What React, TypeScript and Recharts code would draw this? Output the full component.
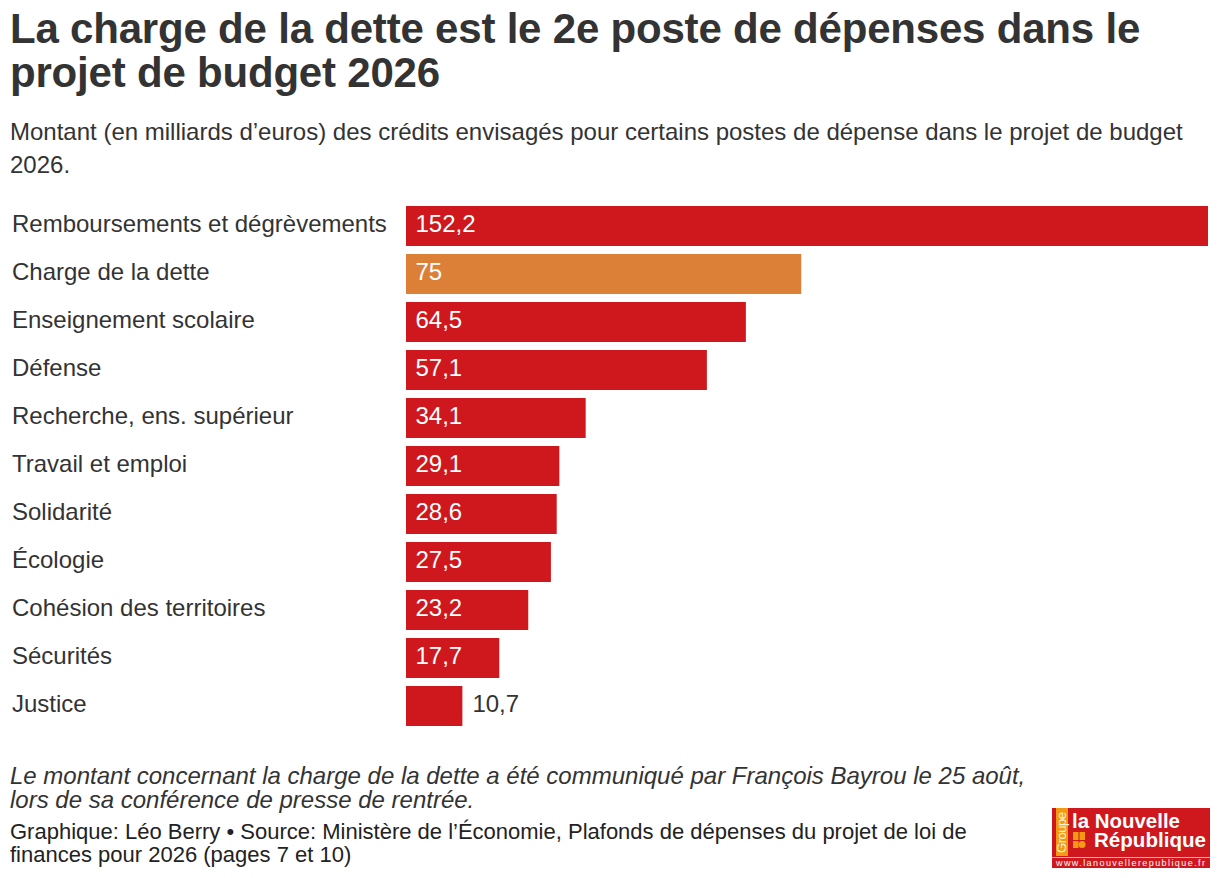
import React from 'react';
import { BarChart, Bar, XAxis, YAxis, Cell, LabelList } from 'recharts';

const categories = [
  'Remboursements et dégrèvements',
  'Charge de la dette',
  'Enseignement scolaire',
  'Défense',
  'Recherche, ens. supérieur',
  'Travail et emploi',
  'Solidarité',
  'Écologie',
  'Cohésion des territoires',
  'Sécurités',
  'Justice',
];
const values = [152.2, 75, 64.5, 57.1, 34.1, 29.1, 28.6, 27.5, 23.2, 17.7, 10.7];
const highlighted = 'Charge de la dette';

const data = categories.map((name, i) => ({ name, value: values[i] }));

const FONT = '"Liberation Sans", Arial, sans-serif';
const INK = '#333333';
const RED = '#ce181e';
const ORANGE = '#dc8038';
const LOGO_ORANGE = '#f39a12';

const CategoryTick = ({ y, payload }: any) => (
  <text x={12} y={y} dy={6} fontSize={24} fontFamily={FONT} fill={INK} textAnchor="start">
    {payload.value}
  </text>
);

const ValueLabel = ({ x, y, width, height, value }: any) => {
  // short bars get the number outside
  const outside = width < 70;
  return (
    <text
      x={outside ? x + width + 10 : x + 9.5}
      y={y + height / 2}
      dy={6}
      fontSize={24}
      fontFamily={FONT}
      fill={outside ? INK : '#ffffff'}
    >
      {String(value).replace('.', ',')}
    </text>
  );
};

function Logo() {
  return (
    <svg width={158} height={60} style={{ position: 'absolute', left: 1052, top: 808 }}>
      <rect width={158} height={60} fill={RED} />
      <rect x={4} width={12} height={48} fill={LOGO_ORANGE} />
      <text
        transform="translate(14,45) rotate(-90)"
        fontSize={13}
        fontFamily={FONT}
        fill="#fff4d0"
        textLength={41}
      >
        Groupe
      </text>
      <rect x={21} y={24} width={5.5} height={8} fill={LOGO_ORANGE} />
      <rect x={27.5} y={24} width={5.5} height={8} fill={LOGO_ORANGE} />
      <rect x={21} y={33} width={5.5} height={7} fill={LOGO_ORANGE} />
      <circle cx={30} cy={36.5} r={3.5} fill={LOGO_ORANGE} />
      <text x={20} y={20} fontSize={21} fontWeight="bold" fontFamily={FONT} fill="#ffffff" textLength={108} lengthAdjust="spacingAndGlyphs">
        la Nouvelle
      </text>
      <text x={42} y={39} fontSize={21} fontWeight="bold" fontFamily={FONT} fill="#ffffff" textLength={112} lengthAdjust="spacingAndGlyphs">
        République
      </text>
      <rect y={49} width={158} height={1} fill="#eeb0b0" />
      <text x={4} y={58} fontSize={9} fontFamily={FONT} fill="#ffffff" textLength={149}>
        www.lanouvellerepublique.fr
      </text>
    </svg>
  );
}

const box = (top: number, extra: React.CSSProperties): React.CSSProperties => ({
  position: 'absolute',
  left: 10,
  top,
  margin: 0,
  fontFamily: FONT,
  color: INK,
  ...extra,
});

export default function App() {
  return (
    <div style={{ position: 'absolute', left: 0, top: 0, width: 1220, height: 878, background: '#fff', overflow: 'hidden' }}>
      <div style={box(7, { width: 1200, fontSize: 42, fontWeight: 'bold', lineHeight: '44px', letterSpacing: -0.2 })}>
        La charge de la dette est le 2e poste de dépenses dans le<br />projet de budget 2026
      </div>
      <div style={box(115, { width: 1200, fontSize: 24, lineHeight: '33px' })}>
        Montant (en milliards d’euros) des crédits envisagés pour certains postes de dépense dans le projet de budget<br />2026.
      </div>
      <div style={{ position: 'absolute', left: 0, top: 202 }}>
        <BarChart
          width={1220}
          height={528}
          data={data}
          layout="vertical"
          margin={{ top: 0, right: 12, bottom: 0, left: 0 }}
          barCategoryGap={4}
        >
          <XAxis type="number" domain={[0, 152.2]} hide />
          <YAxis
            type="category"
            dataKey="name"
            width={406}
            axisLine={false}
            tickLine={false}
            interval={0}
            tick={<CategoryTick />}
          />
          <Bar dataKey="value" isAnimationActive={false}>
            {data.map((d) => (
              <Cell key={d.name} fill={d.name === highlighted ? ORANGE : RED} />
            ))}
            <LabelList dataKey="value" content={<ValueLabel />} />
          </Bar>
        </BarChart>
      </div>
      <div style={box(764, { width: 1040, fontSize: 24, fontStyle: 'italic', lineHeight: '24px' })}>
        Le montant concernant la charge de la dette a été communiqué par François Bayrou le 25 août,<br />lors de sa conférence de presse de rentrée.
      </div>
      <div style={box(820, { width: 1030, fontSize: 22, lineHeight: '23px', color: '#222' })}>
        Graphique: Léo Berry • Source: Ministère de l’Économie, Plafonds de dépenses du projet de loi de<br />finances pour 2026 (pages 7 et 10)
      </div>
      <Logo />
    </div>
  );
}
